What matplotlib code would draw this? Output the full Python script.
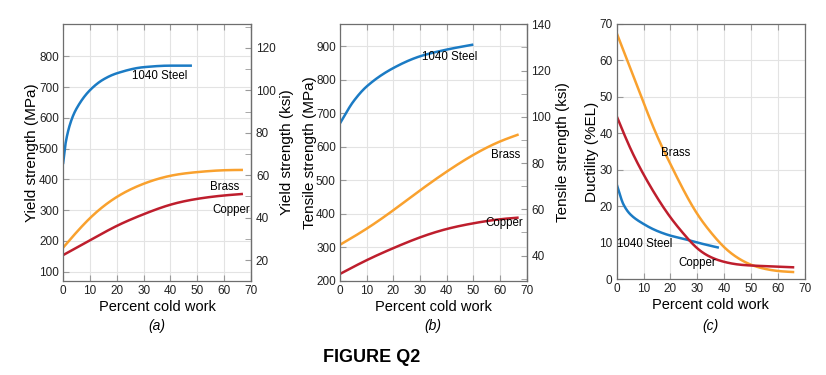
import matplotlib.pyplot as plt
import numpy as np

# (a) yield strength, MPa
ys_steel_x = [0, 1, 3, 5, 10, 15, 20, 30, 40, 48]
ys_steel_y = [450, 520, 590, 630, 690, 725, 745, 765, 770, 770]
ys_brass_x = [0, 10, 20, 30, 40, 50, 60, 67]
ys_brass_y = [178, 274, 343, 386, 412, 424, 430, 431]
ys_copper_x = [0, 10, 20, 30, 40, 50, 60, 67]
ys_copper_y = [154, 202, 249, 287, 318, 337, 348, 353]

# (b) tensile strength, MPa
ts_steel_x = [0, 5, 10, 20, 30, 40, 50]
ts_steel_y = [670, 735, 780, 835, 870, 890, 905]
ts_brass_x = [0, 10, 20, 30, 40, 50, 60, 67]
ts_brass_y = [308, 356, 411, 470, 526, 576, 616, 637]
ts_copper_x = [0, 10, 20, 30, 40, 50, 60, 67]
ts_copper_y = [221, 262, 298, 330, 355, 372, 384, 389]

# (c) ductility, %EL
du_steel_x = [0, 2.5, 5, 10, 15, 20, 25, 30, 35, 38]
du_steel_y = [26, 20.5, 17.8, 15.1, 13.2, 11.9, 11, 10, 9.1, 8.6]
du_brass_x = [0, 5, 10, 15, 20, 25, 30, 35, 40, 45, 50, 55, 60, 66]
du_brass_y = [67.5, 58, 48.4, 39.3, 31.5, 24.2, 17.8, 12.8, 8.7, 5.8, 3.9, 2.8, 2.2, 1.9]
du_copper_x = [0, 5, 10, 15, 20, 25, 30, 35, 40, 45, 50, 60, 66]
du_copper_y = [44.7, 36, 28.7, 22.4, 16.9, 12.3, 8.4, 6, 4.7, 4.0, 3.7, 3.4, 3.2]

blue = '#1b7bc4'
orange = '#f9a12e'
red = '#be1e2d'
MPA_PER_KSI = 6.895

plt.rcParams['font.family'] = ['Liberation Sans', 'DejaVu Sans']

fig = plt.figure(figsize=(8.26, 3.75), dpi=100)
ax_a = fig.add_axes([0.0763, 0.2507, 0.2276, 0.685])
ax_b = fig.add_axes([0.4116, 0.2507, 0.2260, 0.685])
ax_c = fig.add_axes([0.7466, 0.256, 0.2280, 0.680])


def pchip(x, y, n=300):
    # monotone cubic through the read-off points (used for the steep steel curves)
    x = np.asarray(x, float)
    y = np.asarray(y, float)
    h = np.diff(x)
    d = np.diff(y) / h
    m = np.zeros_like(y)
    for i in range(1, len(x) - 1):
        if d[i - 1] * d[i] > 0:
            w1 = 2 * h[i] + h[i - 1]
            w2 = h[i] + 2 * h[i - 1]
            m[i] = (w1 + w2) / (w1 / d[i - 1] + w2 / d[i])
    m[0] = d[0]
    m[-1] = d[-1]
    xs = np.linspace(x[0], x[-1], n)
    idx = np.clip(np.searchsorted(x, xs) - 1, 0, len(x) - 2)
    t = (xs - x[idx]) / h[idx]
    h00 = 2 * t**3 - 3 * t**2 + 1
    h10 = t**3 - 2 * t**2 + t
    h01 = -2 * t**3 + 3 * t**2
    h11 = t**3 - t**2
    ys = h00 * y[idx] + h10 * h[idx] * m[idx] + h01 * y[idx + 1] + h11 * h[idx] * m[idx + 1]
    return xs, ys


def spline(x, y, n=300):
    # natural cubic spline, smoother for the gentle curves
    x = np.asarray(x, float)
    y = np.asarray(y, float)
    k = len(x)
    h = np.diff(x)
    A = np.zeros((k, k))
    r = np.zeros(k)
    A[0, 0] = A[-1, -1] = 1
    for i in range(1, k - 1):
        A[i, i - 1] = h[i - 1]
        A[i, i] = 2 * (h[i - 1] + h[i])
        A[i, i + 1] = h[i]
        r[i] = 6 * ((y[i + 1] - y[i]) / h[i] - (y[i] - y[i - 1]) / h[i - 1])
    M = np.linalg.solve(A, r)
    xs = np.linspace(x[0], x[-1], n)
    idx = np.clip(np.searchsorted(x, xs) - 1, 0, k - 2)
    a = x[idx + 1] - xs
    b = xs - x[idx]
    hh = h[idx]
    ys = (M[idx] * a**3 + M[idx + 1] * b**3) / (6 * hh) \
        + (y[idx] / hh - M[idx] * hh / 6) * a + (y[idx + 1] / hh - M[idx + 1] * hh / 6) * b
    return xs, ys


def style(ax):
    ax.set_xlim(0, 70)
    ax.set_xticks(range(0, 71, 10))
    ax.grid(True, color='#e3e3e3', linewidth=0.8)
    ax.set_axisbelow(True)
    for s in ax.spines.values():
        s.set_color('#6e6e6e')
        s.set_linewidth(0.9)
    ax.tick_params(direction='in', length=4, color='#9a9a9a', labelsize=8.5,
                   top=True, pad=3, labelcolor='#222222')
    ax.set_xlabel('Percent cold work', fontsize=10.5, labelpad=2)


def plot3(ax, data):
    for x, y, c, f in data:
        xs, ys = f(x, y)
        ax.plot(xs, ys, color=c, linewidth=1.8, solid_capstyle='butt')


def ksi_axis(ax, major, minor, label):
    sec = ax.secondary_yaxis('right', functions=(lambda v: v / MPA_PER_KSI,
                                                 lambda v: v * MPA_PER_KSI))
    sec.set_yticks(major)
    sec.set_yticks(minor, minor=True)
    sec.tick_params(direction='in', length=4, color='#9a9a9a', labelsize=8.5,
                    labelcolor='#222222')
    sec.tick_params(which='minor', direction='in', length=4, color='#9a9a9a')
    sec.set_ylabel(label, fontsize=11, labelpad=3)
    return sec


# (a)
plot3(ax_a, [(ys_steel_x, ys_steel_y, blue, pchip),
             (ys_brass_x, ys_brass_y, orange, spline),
             (ys_copper_x, ys_copper_y, red, spline)])
style(ax_a)
ax_a.set_ylim(70, 905)
ax_a.set_yticks(range(100, 801, 100))
ax_a.set_ylabel('Yield strength (MPa)', fontsize=11, labelpad=0)
ax_a.text(36, 737, '1040 Steel', fontsize=8.3, ha='center', va='center')
ax_a.text(60, 377, 'Brass', fontsize=8.3, ha='center', va='center')
ax_a.text(62.5, 300, 'Copper', fontsize=8.3, ha='center', va='center')
ksi_axis(ax_a, range(20, 121, 20), range(10, 131, 10), 'Yield strength (ksi)')

# (b)
plot3(ax_b, [(ts_steel_x, ts_steel_y, blue, pchip),
             (ts_brass_x, ts_brass_y, orange, spline),
             (ts_copper_x, ts_copper_y, red, spline)])
style(ax_b)
ax_b.set_ylim(200, 966)
ax_b.set_yticks(range(200, 901, 100))
ax_b.set_ylabel('Tensile strength (MPa)', fontsize=11, labelpad=-1)
ax_b.text(41, 868, '1040 Steel', fontsize=8.3, ha='center', va='center')
ax_b.text(62, 577, 'Brass', fontsize=8.3, ha='center', va='center')
ax_b.text(61.5, 372, 'Copper', fontsize=8.3, ha='center', va='center')
ksi_axis(ax_b, range(40, 141, 20), range(30, 141, 10), 'Tensile strength (ksi)')

# (c)
plot3(ax_c, [(du_steel_x, du_steel_y, blue, pchip),
             (du_brass_x, du_brass_y, orange, spline),
             (du_copper_x, du_copper_y, red, spline)])
style(ax_c)
ax_c.set_ylim(0, 70)
ax_c.set_yticks(range(0, 71, 10))
ax_c.set_ylabel('Ductility (%EL)', fontsize=11, labelpad=0)
ax_c.text(22, 34.5, 'Brass', fontsize=8.3, ha='center', va='center')
ax_c.text(10.5, 9.7, '1040 Steel', fontsize=8.3, ha='center', va='center')
ax_c.text(30, 4.5, 'Copper', fontsize=8.3, ha='center', va='center')

# panel letters and caption
fig.text(157 / 826, 1 - 326 / 375, '(a)', fontsize=10, style='italic', ha='center', va='center')
fig.text(433 / 826, 1 - 326 / 375, '(b)', fontsize=10, style='italic', ha='center', va='center')
fig.text(710 / 826, 1 - 326 / 375, '(c)', fontsize=10, style='italic', ha='center', va='center')
fig.text(372 / 826, 1 - 357 / 375, 'FIGURE Q2', fontsize=13, fontweight='bold',
         ha='center', va='center')

fig.savefig('out.png', dpi=100)
